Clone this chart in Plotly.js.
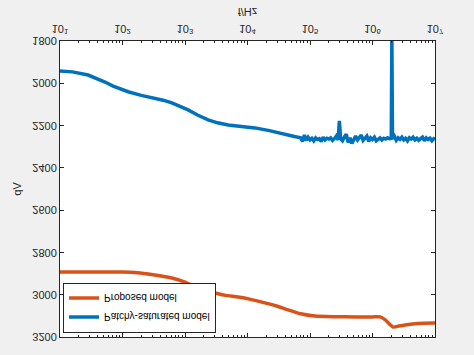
<!DOCTYPE html>
<html>
<head>
<meta charset="utf-8">
<script src="https://cdn.plot.ly/plotly-3.0.1.min.js"></script>
<style>
  html, body { margin: 0; padding: 0; background: #f0f0f0; }
  #chart { width: 474px; height: 355px; transform: scaleY(-1); }
</style>
</head>
<body>
<div id="chart"></div>
<script>
// Patchy-saturated model (log10 of frequency, Vp)
var blueLogF = [1.0, 1.2, 1.45, 1.6, 1.72, 1.85, 2.0, 2.09, 2.3, 2.52, 2.65, 2.79, 2.92, 3.05, 3.2, 3.37, 3.52, 3.69, 3.9, 4.12, 4.35, 4.55, 4.75, 4.85,
  4.88, 4.91, 4.94, 4.97, 5.00, 5.03, 5.06, 5.09, 5.12, 5.15, 5.18, 5.21, 5.24, 5.27, 5.30, 5.33, 5.36, 5.39, 5.42, 5.45,
  5.47, 5.49, 5.52, 5.55, 5.58, 5.61, 5.64, 5.67, 5.70, 5.73, 5.76, 5.79, 5.82, 5.85, 5.88, 5.91, 5.94, 5.97, 6.00, 6.03,
  6.06, 6.09, 6.12, 6.15, 6.18, 6.21, 6.24, 6.27, 6.30, 6.31, 6.32, 6.35, 6.38, 6.41, 6.44, 6.47, 6.50, 6.53, 6.56, 6.59,
  6.62, 6.65, 6.68, 6.71, 6.74, 6.77, 6.80, 6.83, 6.86, 6.89, 6.92, 6.95, 6.98, 7.00];
var blueVp = [1942, 1946, 1961, 1978, 1994, 2013, 2030, 2040, 2057, 2070, 2080, 2093, 2108, 2126, 2150, 2173, 2187, 2197, 2204, 2211, 2224, 2240, 2252, 2258,
  2275, 2245, 2270, 2255, 2268, 2260, 2272, 2258, 2266, 2262, 2275, 2255, 2268, 2260, 2264, 2258, 2270, 2262, 2250, 2268,
  2178, 2262, 2272, 2255, 2240, 2280, 2258, 2285, 2262, 2250, 2268, 2258, 2245, 2270, 2262, 2250, 2275, 2258, 2266, 2255,
  2272, 2262, 2258, 2268, 2260, 2264, 2258, 2262, 2260, 1780, 2262, 2250, 2270, 2258, 2265, 2255, 2268, 2260, 2272, 2258,
  2264, 2255, 2268, 2260, 2270, 2262, 2255, 2272, 2258, 2266, 2260, 2272, 2262, 2265];

// Proposed model
var redLogF = [1.0, 1.5, 1.99, 2.2, 2.41, 2.6, 2.79, 3.0, 3.16, 3.3, 3.48, 3.65, 3.85, 4.05, 4.23, 4.45, 4.65, 4.85, 5.08, 5.4, 5.72, 6.0, 6.12, 6.2, 6.33, 6.42, 6.52, 6.73, 7.0];
var redVp = [2893, 2893, 2893, 2895, 2902, 2910, 2921, 2940, 2963, 2978, 2992, 3003, 3011, 3022, 3035, 3052, 3072, 3090, 3101, 3104, 3105, 3105, 3105, 3118, 3153, 3148, 3143, 3136, 3134];

var seriesNames = ['Patchy-saturated model', 'Proposed model'];
var yTicks = [1800, 2000, 2200, 2400, 2600, 2800, 3000, 3200];
var xTickExp = [1, 2, 3, 4, 5, 6, 7];

function toF(a) { return a.map(function (v) { return Math.pow(10, v); }); }

var minorVals = [];
for (var d = 1; d < 7; d++) {
  for (var m = 2; m <= 9; m++) minorVals.push(m * Math.pow(10, d));
}

var traces = [
  { x: toF(blueLogF), y: blueVp, mode: 'lines', name: seriesNames[0],
    line: { color: '#0072BD', width: 3.5 } },
  { x: toF(redLogF), y: redVp, mode: 'lines', name: seriesNames[1],
    line: { color: '#D95319', width: 3.5, shape: 'spline', smoothing: 0.6 } }
];

var fontFam = 'Liberation Sans, Arial, sans-serif';
var axisCommon = {
  showline: true, mirror: 'ticks', linecolor: '#262626', linewidth: 1,
  ticks: 'inside', ticklen: 4, tickcolor: '#262626',
  showgrid: false, zeroline: false,
  tickfont: { family: fontFam, size: 11, color: '#262626' }
};

var layout = {
  width: 474, height: 355,
  margin: { l: 60, r: 39, t: 18, b: 41 },
  paper_bgcolor: '#f0f0f0',
  plot_bgcolor: '#ffffff',
  showlegend: true,
  legend: {
    x: 0.008, y: 0.985, xanchor: 'left', yanchor: 'top',
    bgcolor: '#ffffff', bordercolor: '#262626', borderwidth: 1,
    font: { family: fontFam, size: 10, color: '#000' },
    tracegroupgap: 0
  },
  xaxis: Object.assign({}, axisCommon, {
    type: 'log', range: [1, 7],
    tickvals: xTickExp.map(function (e) { return Math.pow(10, e); }),
    ticktext: xTickExp.map(function (e) { return '10<sup>' + e + '</sup>'; }),
    ticklabelstandoff: 2,
    minor: { ticks: 'inside', ticklen: 2, tickcolor: '#262626', tickvals: minorVals, showgrid: false },
    title: { text: 'f/Hz', standoff: 8, font: { family: fontFam, size: 11, color: '#262626' } }
  }),
  yaxis: Object.assign({}, axisCommon, {
    range: [1800, 3200], tickvals: yTicks,
    title: { text: 'Vp', standoff: 8, font: { family: fontFam, size: 11, color: '#262626' } }
  })
};

Plotly.newPlot('chart', traces, layout, { displayModeBar: false, staticPlot: true });
</script>
</body>
</html>
